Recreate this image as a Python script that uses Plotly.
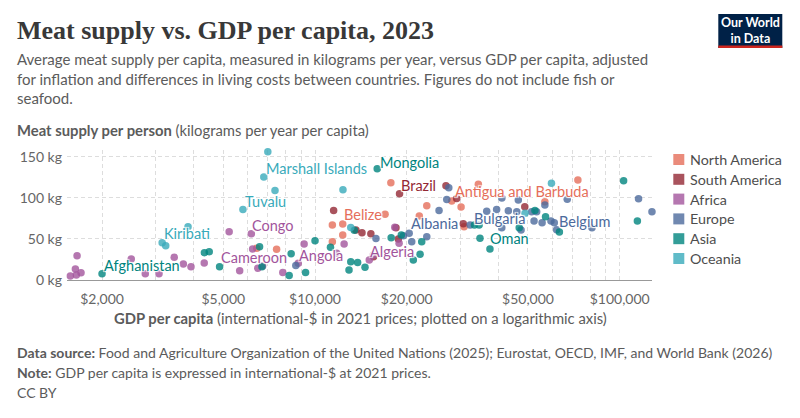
import numpy as np
import plotly.graph_objects as go

# ---------------- data ----------------
continents = ["North America", "South America", "Africa", "Europe", "Asia", "Oceania"]

na_gdp = [6440, 7480, 11400, 11400, 12330, 12330, 16980, 17740, 21990, 23270, 28100, 30160, 30850, 34360, 56800, 72900]
na_meat = [38.6, 37.3, 46.6, 66.9, 68.1, 54.7, 79.9, 118.4, 77.9, 90.4, 96.1, 88.8, 64.8, 116.4, 95.3, 121.7]

sa_gdp = [11510, 13620, 14260, 15250, 15560, 18440, 18940, 18770, 26900, 29170, 30660, 48800]
sa_meat = [84.5, 60.8, 57.5, 56.3, 28.3, 63.6, 105.0, 49.9, 114.7, 99.1, 68.5, 89.2]

af_gdp = [1528, 1574, 1635, 1647, 1656, 1706, 2494, 2773, 3076, 3451, 3697, 3917, 4329, 5226, 5659, 6180,
          6240, 6487, 6730, 7838, 8810, 9210, 11780, 12460, 15070, 15540, 18880, 18270]
af_meat = [10.9, 4.9, 13.4, 6.1, 29.6, 8.9, 25.5, 7.7, 7.7, 27.6, 19.5, 16.2, 20.7, 58.8, 11.3, 56.3,
           37.7, 14.4, 17.0, 9.1, 20.3, 43.8, 32.5, 43.8, 24.3, 30.4, 44.6, 64.1]

eu_gdp = [8650, 15850, 19500, 20370, 20770, 23270, 25530, 27480, 27060, 32300, 36600, 39450, 41050, 43110,
          45940, 46480, 47450, 51400, 53380, 52340, 55620, 59480, 60990, 62100, 67270, 81100, 115300, 127600,
          41020, 56800]
eu_meat = [17.6, 50.5, 53.9, 56.8, 46.6, 52.7, 84.5, 112.3, 97.9, 66.9, 83.6, 85.8, 99.8, 84.3,
           83.1, 97.3, 60.8, 83.1, 83.1, 71.8, 69.7, 71.8, 69.7, 61.2, 98.3, 63.5, 98.9, 83.1,
           63.6, 91.2]

as_gdp = [2000, 4335, 4495, 4862, 6577, 6697, 8226, 8350, 9310, 10000, 11240, 12930, 13100, 13460, 13800,
          14590, 16000, 17780, 19200, 22400, 22120, 21020, 33360, 34560, 34790, 37510, 46800, 52700, 57100,
          63400, 103000, 114300]
as_meat = [7.7, 33.2, 34.4, 16.1, 40.5, 16.2, 5.5, 32.0, 9.1, 47.8, 39.8, 12.2, 22.3, 60.5, 21.3,
           15.4, 135.4, 51.5, 54.7, 46.6, 31.3, 24.3, 66.9, 66.9, 50.7, 37.7, 63.6, 84.5, 77.0,
           58.4, 120.7, 71.8]

oc_gdp = [3150, 3236, 3830, 5800, 6790, 7000, 7390, 12350, 13100, 59700, 48900]
oc_meat = [45.4, 41.7, 64.8, 85.8, 125.3, 156.0, 108.9, 109.9, 63.9, 117.6, 81.1]

label_names = ["Marshall Islands", "Mongolia", "Brazil", "Antigua and Barbuda", "Belize", "Tuvalu", "Congo",
               "Kiribati", "Afghanistan", "Cameroon", "Angola", "Algeria", "Albania", "Bulgaria", "Oman", "Belgium"]
label_cont = ["Oceania", "Asia", "South America", "North America", "North America", "Oceania", "Africa",
              "Oceania", "Asia", "Africa", "Africa", "Africa", "Europe", "Europe", "Asia", "Europe"]
label_gdp = [10140, 20360, 21870, 47650, 14380, 6860, 7290, 3790, 2705, 6310, 10470, 17900, 24600, 40180, 43630, 76400]
label_meat = [136.2, 143.5, 115.6, 108.3, 80.3, 96.1, 66.9, 57.2, 18.2, 26.8, 30.4, 34.1, 69.3, 75.4, 49.9, 71.8]

x_tickvals = [2000, 3000, 4000, 5000, 6000, 7000, 8000, 9000, 10000, 20000, 30000, 40000, 50000,
              60000, 70000, 80000, 90000, 100000]
x_ticktext = ["$2,000", "", "", "$5,000", "", "", "", "", "$10,000", "$20,000", "", "", "$50,000",
              "", "", "", "", "$100,000"]
y_tickvals = [0, 50, 100, 150]
y_ticktext = ["0 kg", "50 kg", "100 kg", "150 kg"]

series = {
    "North America": (na_gdp, na_meat),
    "South America": (sa_gdp, sa_meat),
    "Africa": (af_gdp, af_meat),
    "Europe": (eu_gdp, eu_meat),
    "Asia": (as_gdp, as_meat),
    "Oceania": (oc_gdp, oc_meat),
}
colors = {
    "North America": "#E56E5A",
    "South America": "#932834",
    "Africa": "#A2559C",
    "Europe": "#4C6A9C",
    "Asia": "#00847E",
    "Oceania": "#38AABA",
}

# ---------------- layout geometry (pixels) ----------------
W_PX, H_PX = 800, 418
L, R, T, B = 66.7, 651.7, 150.0, 280.0


def pxx(x):
    return (x - L) / (R - L)


def pxy(y):
    return (B - y) / (B - T)


FONT = "Lato"
fig = go.Figure()

for c in continents:
    gx, gy = series[c]
    fig.add_trace(go.Scatter(
        x=gx, y=gy, mode="markers", name=c, showlegend=False, cliponaxis=False,
        marker=dict(size=7.5, color=colors[c], opacity=0.8, line=dict(width=0)),
        hoverinfo="skip",
    ))

annotations = []
shadow = "white 1px 1px 1px, white -1px -1px 1px, white 1px -1px 1px, white -1px 1px 1px"
for name, cont, gx, gy in zip(label_names, label_cont, label_gdp, label_meat):
    annotations.append(dict(
        x=np.log10(gx), y=gy, xref="x", yref="y", text=name, showarrow=False,
        xanchor="center", yanchor="middle",
        font=dict(family=FONT, size=14.5, color=colors[cont], shadow=shadow),
    ))

# title and subtitle
annotations.append(dict(x=pxx(15), y=pxy(30), xref="paper", yref="paper", xanchor="left", yanchor="middle",
                        text="<b>Meat supply vs. GDP per capita, 2023</b>", showarrow=False,
                        font=dict(family="Liberation Serif", size=26, color="#383838")))
sub_lines = ["Average meat supply per capita, measured in kilograms per year, versus GDP per capita, adjusted",
             "for inflation and differences in living costs between countries. Figures do not include fish or",
             "seafood."]
for i, line in enumerate(sub_lines):
    annotations.append(dict(x=pxx(15), y=pxy(59 + 19.6 * i), xref="paper", yref="paper", xanchor="left",
                            yanchor="middle", text=line, showarrow=False,
                            font=dict(family=FONT, size=15, color="#5b5b5b")))

# y axis title
annotations.append(dict(x=pxx(15), y=pxy(130), xref="paper", yref="paper", xanchor="left", yanchor="middle",
                        text="<b>Meat supply per person</b> (kilograms per year per capita)", showarrow=False,
                        font=dict(family=FONT, size=14.8, color="#5b5b5b")))
# x axis title
annotations.append(dict(x=pxx(360.5), y=pxy(318), xref="paper", yref="paper", xanchor="center",
                        yanchor="middle",
                        text="<b>GDP per capita</b> (international-$ in 2021 prices; plotted on a logarithmic axis)",
                        showarrow=False, font=dict(family=FONT, size=14.8, color="#5b5b5b")))
# footer
footer = ["<b>Data source:</b> Food and Agriculture Organization of the United Nations (2025); Eurostat, OECD, IMF, and World Bank (2026)",
          "<b>Note:</b> GDP per capita is expressed in international-$ at 2021 prices.",
          "CC BY"]
for i, line in enumerate(footer):
    annotations.append(dict(x=pxx(15), y=pxy(352 + 20 * i), xref="paper", yref="paper", xanchor="left",
                            yanchor="middle", text=line, showarrow=False,
                            font=dict(family=FONT, size=14, color="#5b5b5b")))

# legend (custom)
shapes = []
for i, c in enumerate(continents):
    yc = 159.5 + 19.8 * i
    shapes.append(dict(type="rect", xref="paper", yref="paper", x0=pxx(673), x1=pxx(684),
                       y0=pxy(yc + 5.5), y1=pxy(yc - 5.5), fillcolor=colors[c], opacity=0.8,
                       line=dict(width=0)))
    annotations.append(dict(x=pxx(687.5), y=pxy(yc), xref="paper", yref="paper", xanchor="left",
                            yanchor="middle", text=c, showarrow=False,
                            font=dict(family=FONT, size=14.3, color="#4d4d4d")))

# logo
shapes.append(dict(type="rect", xref="paper", yref="paper", x0=pxx(718), x1=pxx(782), y0=pxy(48), y1=pxy(14),
                   fillcolor="#002147", line=dict(width=0)))
shapes.append(dict(type="rect", xref="paper", yref="paper", x0=pxx(718), x1=pxx(782), y0=pxy(48), y1=pxy(45.5),
                   fillcolor="#ce261e", line=dict(width=0)))
annotations.append(dict(x=pxx(750), y=pxy(30), xref="paper", yref="paper", xanchor="center", yanchor="middle",
                        text="<b>Our World<br>in Data</b>", showarrow=False,
                        font=dict(family=FONT, size=12.5, color="white")))

fig.update_layout(
    width=W_PX, height=H_PX,
    margin=dict(l=L, r=W_PX - R, t=T, b=H_PX - B, pad=0),
    paper_bgcolor="white", plot_bgcolor="white",
    showlegend=False,
    annotations=annotations, shapes=shapes,
    xaxis=dict(type="log", range=[3.186, 5.106], tickmode="array", tickvals=x_tickvals, ticktext=x_ticktext,
               showgrid=True, gridcolor="#dddddd", griddash="4px,3px", gridwidth=1,
               showline=True, linecolor="#999999", linewidth=1, ticks="", zeroline=False,
               tickfont=dict(family=FONT, size=14, color="#666666"), ticklabelstandoff=6),
    yaxis=dict(range=[0, 158.2], tickmode="array", tickvals=y_tickvals, ticktext=y_ticktext,
               showgrid=True, gridcolor="#dddddd", griddash="4px,3px", gridwidth=1,
               showline=False, ticks="", zeroline=False,
               tickfont=dict(family=FONT, size=14, color="#666666"), ticklabelstandoff=4),
    font=dict(family=FONT),
)

fig.write_html("out.html")
